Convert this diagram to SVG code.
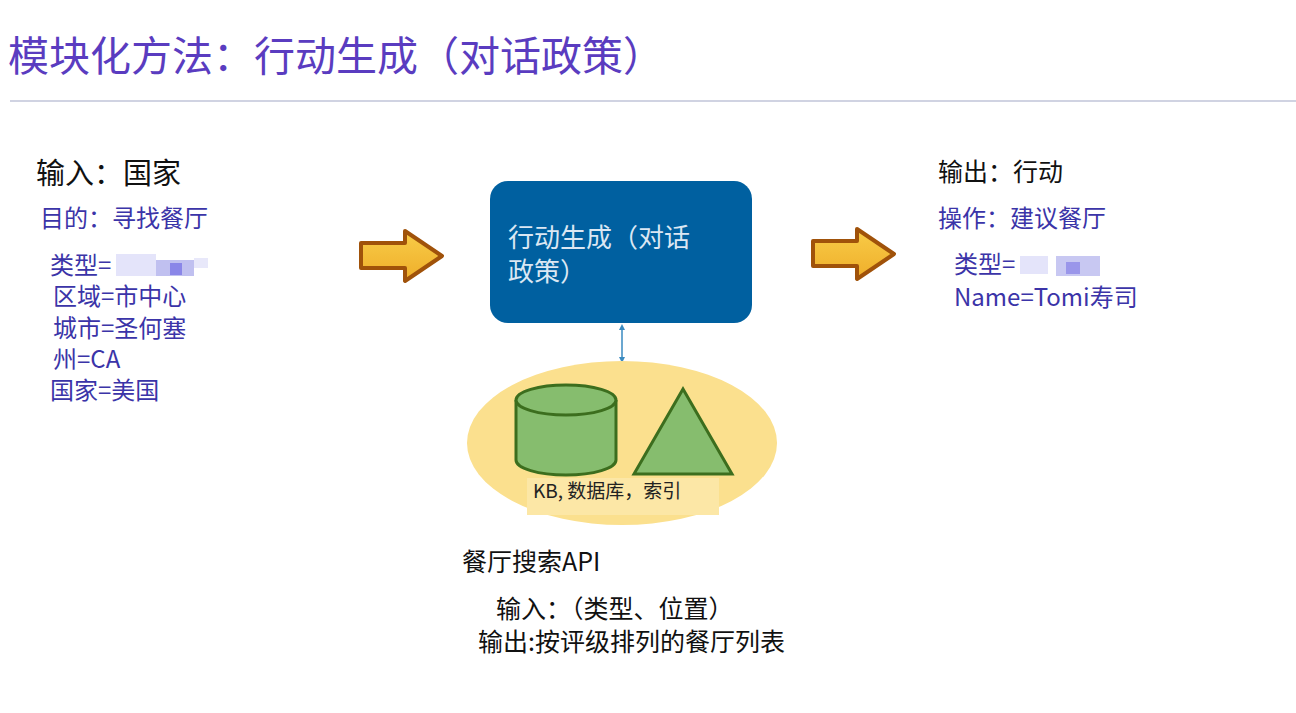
<svg xmlns="http://www.w3.org/2000/svg" width="1296" height="713" viewBox="0 0 1296 713">
<defs>
<style>
text{font-family:"Noto Sans CJK SC","Noto Sans",sans-serif}
.blk{fill:#111;font-size:25px}
.pur{fill:#3b34a8;font-size:24px}
.lst{fill:#3b34a8;font-size:24px}
.bar{stroke:#a0520a;stroke-width:4;stroke-linejoin:round}
.grn{fill:#86bd6e;stroke:#3c6e1e;stroke-width:3}
</style>
<marker id="ah" viewBox="0 0 10 10" refX="5" refY="5" markerWidth="4" markerHeight="4" orient="auto-start-reverse"><path d="M0,0L10,5L0,10z" fill="#3a8ac0"/></marker>
<linearGradient id="og" x1="0" y1="0" x2="0" y2="1"><stop offset="0" stop-color="#f8cc48"/><stop offset="1" stop-color="#efae2a"/></linearGradient>
</defs>
<rect width="1296" height="713" fill="#fff"/>
<text x="8" y="71" style="font-size:41px;fill:#5a3cc0">模块化方法：行动生成（对话政策）</text>
<line x1="10" y1="101" x2="1296" y2="101" stroke="#c0c4d8" stroke-width="1.5"/>
<g id="input">
<text x="36" y="184" style="font-size:29px;fill:#111">输入：国家</text>
<text x="40" y="227" class="pur">目的：寻找餐厅</text>
<text x="50" y="274" class="lst">类型=</text>
<rect x="116" y="254" width="40" height="22" fill="#e4e4fa"/><rect x="156" y="260" width="38" height="16" fill="#c0c0f0"/><rect x="170" y="263" width="12" height="12" fill="#8a86e8"/><rect x="194" y="258" width="14" height="10" fill="#e8e8fa"/>
<text x="53" y="305" class="lst">区域=市中心</text>
<text x="53" y="337" class="lst">城市=圣何塞</text>
<text x="53" y="368" class="lst">州=CA</text>
<text x="50" y="399" class="lst">国家=美国</text>
</g>
<g id="arrowL"><path class="bar" d="M361,243H405V231L442,256L405,281V268H361Z" fill="url(#og)"/></g>
<g id="policy">
<rect x="490" y="181" width="262" height="142" rx="18" fill="#0060a0"/>
<text x="508" y="247" style="font-size:26px;fill:#dbe7f3">行动生成（对话</text>
<text x="508" y="281" style="font-size:26px;fill:#dbe7f3">政策）</text>
</g>
<g id="connectors">
<line x1="622" y1="327" x2="622" y2="360" stroke="#3a8ac0" stroke-width="1.5" marker-start="url(#ah)" marker-end="url(#ah)"/>
</g>
<g id="kb">
<ellipse cx="622" cy="443" rx="155" ry="82" fill="#fbe08e"/>
<rect x="527" y="478" width="192" height="37" fill="#fce7a6"/>
<path class="grn" d="M516,400V460A50,15 0 0 0 616,460V400"/>
<ellipse class="grn" cx="566" cy="400" rx="50" ry="15"/>
<polygon class="grn" points="683,389 634,474 732,474"/>
<text x="533" y="498" style="font-size:19px;fill:#222">KB, 数据库，索引</text>
</g>
<g id="arrowR"><path class="bar" d="M813,241H857V229L894,254L857,279V266H813Z" fill="url(#og)"/></g>
<g id="output">
<text x="938" y="181" class="blk">输出：行动</text>
<text x="938" y="227" class="pur">操作：建议餐厅</text>
<text x="954" y="273" class="lst">类型=</text>
<rect x="1020" y="256" width="28" height="18" fill="#e4e4fa"/><rect x="1056" y="256" width="44" height="20" fill="#c8c8f2"/><rect x="1066" y="262" width="14" height="12" fill="#9a96ea"/>
<text x="954" y="306" class="pur">Name=Tomi寿司</text>
</g>
<g id="api">
<text x="462" y="571" class="blk">餐厅搜索API</text>
<text x="496" y="618" class="blk">输入：（类型、位置）</text>
<text x="478" y="651" class="blk">输出:按评级排列的餐厅列表</text>
</g>
</svg>
